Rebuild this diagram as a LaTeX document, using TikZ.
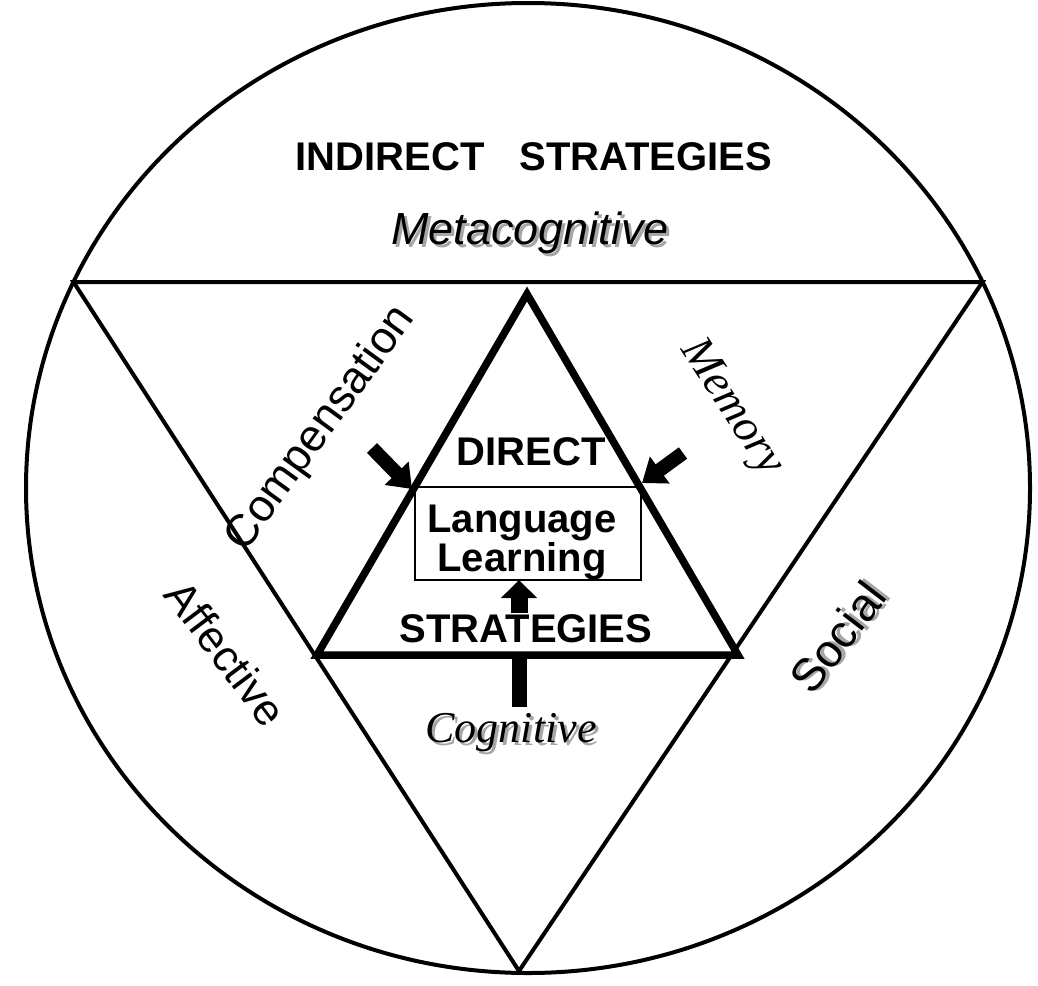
\documentclass[tikz,border=0pt]{standalone}
\usepackage{fontspec}
\setmainfont{Liberation Sans}
\newfontfamily\serifit{Liberation Serif}
\usetikzlibrary{arrows.meta}
\newcommand\dropshadow[1]{\makebox[0pt][l]{\hspace{3pt}\raisebox{-3pt}{\textcolor{black!35}{#1}}}#1}
\begin{document}
\begin{tikzpicture}[x=1pt,y=-1pt,
  outline/.style={line width=4pt, line join=miter},
  innertri/.style={line width=7.5pt, line join=miter},
  boxline/.style={line width=2pt},
  bold40/.style={font=\fontsize{40}{39}\selectfont\bfseries, inner sep=0pt, align=center},
  sidelbl/.style={font=\fontsize{44}{46}\selectfont, inner sep=0pt},
  sideserif/.style={font=\fontsize{44}{46}\selectfont\serifit\itshape, inner sep=0pt},
  fatarrow/.style={line width=14pt, -{Triangle[length=22pt,width=32pt]}},
  smallarrow/.style={line width=17pt, -{Triangle[length=18pt,width=35pt]}},
  bar/.style={line width=15pt},
]
\useasboundingbox (0,0) rectangle (1038,985);
% outer circle
\draw[outline] (528,488) ellipse [x radius=502pt, y radius=485pt];
% outer downward triangle
\coordinate (TL) at (73.5,282);
\coordinate (TR) at (982.5,282);
\coordinate (BOT) at (519,971);
\draw[outline] (TL) -- (TR) -- (BOT) -- cycle;
% inner upward triangle
\coordinate (IA) at (527,294);
\coordinate (IL) at (317,655);
\coordinate (IR) at (738,655);
\draw[innertri] (IA) -- (IR) -- (IL) -- cycle;
% box
\coordinate (BX1) at (415,487);
\coordinate (BX2) at (641,580);
\draw[boxline] (BX1) rectangle (BX2);
% texts
\node[bold40] (indirect) at (534,157) {INDIRECT\hspace{35pt}STRATEGIES};
\node[bold40] (direct) at (531,452) {DIRECT};
\node[bold40] (lang) at (522,542) {Language\\Learning};
\node[bold40] (strat) at (526,629) {STRATEGIES};
\node[sidelbl, font=\fontsize{45}{47}\selectfont\itshape] (meta) at (530,234) {\dropshadow{Metacognitive}};
\node[sideserif] (cog) at (511,734) {\dropshadow{Cognitive}};
% rotated labels
\node[sidelbl, rotate=54, font=\fontsize{45}{47}\selectfont] (comp) at (321,429) {Compensation};
\node[sideserif, rotate=-57, font=\fontsize{46}{48}\selectfont\serifit\itshape] (mem) at (731,408) {Memory};
\node[sidelbl, rotate=-53] (aff) at (226,653) {Affective};
\node[sidelbl, rotate=52.5, font=\fontsize{46}{48}\selectfont] (soc) at (839,638) {\dropshadow{Social}};
% arrows
\coordinate (la1) at (372,448);
\coordinate (la2) at (412,489);
\draw[fatarrow] (la1) -- (la2);
\coordinate (ra1) at (683,453);
\coordinate (ra2) at (642,483);
\draw[fatarrow] (ra1) -- (ra2);
\coordinate (ua1) at (519,613);
\coordinate (ua2) at (519,580);
\draw[smallarrow] (ua1) -- (ua2);
\coordinate (cb1) at (519.5,655);
\coordinate (cb2) at (519.5,707);
\draw[bar] (cb1) -- (cb2);
\end{tikzpicture}
\end{document}
